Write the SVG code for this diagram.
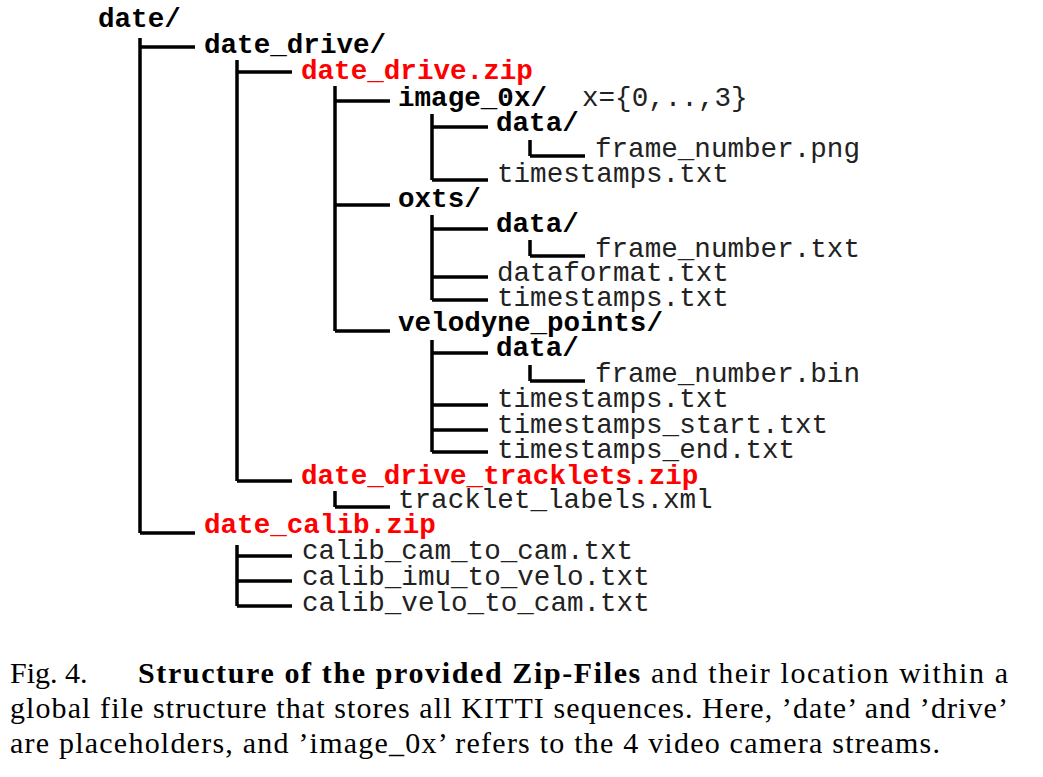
<svg xmlns="http://www.w3.org/2000/svg" width="1043" height="777" viewBox="0 0 1043 777">
<style>
.d{font-family:"Liberation Mono",monospace;font-weight:bold;font-size:27.6px;fill:#000}
.z{font-family:"Liberation Mono",monospace;font-weight:bold;font-size:27.6px;fill:#f00}
.f{font-family:"Liberation Mono",monospace;font-size:27.6px;fill:#222}
.c{font-family:"Liberation Serif",serif;font-size:30px;fill:#000}
.l{stroke:#000;stroke-width:3.5;fill:none}
</style>
<rect width="1043" height="777" fill="#fff"/>
<g id="connectors" class="l">
<path d="M140 38V533M140 47H195M140 533H195"/>
<path d="M237 60V481M237 72H292M237 481H292"/>
<path d="M237 545V606M237 556H292M237 581H292M237 606H292"/>
<path d="M335 86V331M335 101H390M335 205H390M335 331H390"/>
<path d="M335 491V507M335 507H390"/>
<path d="M432 114V180M432 127H488M432 180H488"/>
<path d="M432 215V300M432 229H488M432 277H488M432 300H488"/>
<path d="M432 340V452M432 353H488M432 405H488M432 430H488M432 452H488"/>
<path d="M530 140V156M530 156H585M530 240V256M530 256H585M530 365V381M530 381H585"/>
</g>
<g id="n1"><text class="d" x="98" y="27">date/</text></g>
<g id="n2"><text class="d" x="204" y="53">date_drive/</text></g>
<g id="n3"><text class="z" x="301" y="79">date_drive.zip</text></g>
<g id="n4"><text class="d" x="398" y="106">image_0x/</text><text class="f" x="582" y="106">x={0,..,3}</text></g>
<g id="n5"><text class="d" x="496" y="131">data/</text></g>
<g id="n6"><text class="f" x="595" y="157">frame_number.png</text></g>
<g id="n7"><text class="f" x="497" y="182">timestamps.txt</text></g>
<g id="n8"><text class="d" x="398" y="207">oxts/</text></g>
<g id="n9"><text class="d" x="496" y="232">data/</text></g>
<g id="n10"><text class="f" x="595" y="257">frame_number.txt</text></g>
<g id="n11"><text class="f" x="497" y="281">dataformat.txt</text></g>
<g id="n12"><text class="f" x="497" y="306">timestamps.txt</text></g>
<g id="n13"><text class="d" x="398" y="331">velodyne_points/</text></g>
<g id="n14"><text class="d" x="496" y="356">data/</text></g>
<g id="n15"><text class="f" x="595" y="382">frame_number.bin</text></g>
<g id="n16"><text class="f" x="497" y="407">timestamps.txt</text></g>
<g id="n17"><text class="f" x="497" y="433">timestamps_start.txt</text></g>
<g id="n18"><text class="f" x="497" y="458">timestamps_end.txt</text></g>
<g id="n19"><text class="z" x="301" y="484">date_drive_tracklets.zip</text></g>
<g id="n20"><text class="f" x="398" y="508">tracklet_labels.xml</text></g>
<g id="n21"><text class="z" x="204" y="533">date_calib.zip</text></g>
<g id="n22"><text class="f" x="302" y="559">calib_cam_to_cam.txt</text></g>
<g id="n23"><text class="f" x="302" y="585">calib_imu_to_velo.txt</text></g>
<g id="n24"><text class="f" x="302" y="611">calib_velo_to_cam.txt</text></g>
<g id="caption">
<text class="c" x="10" y="683">Fig. 4.</text>
<text class="c" x="138" y="683" textLength="870" lengthAdjust="spacing"><tspan font-weight="bold">Structure of the provided Zip-Files</tspan> and their location within a</text>
<text class="c" x="10" y="718" textLength="998" lengthAdjust="spacing">global file structure that stores all KITTI sequences. Here, ’date’ and ’drive’</text>
<text class="c" x="10" y="753" textLength="930" lengthAdjust="spacing">are placeholders, and ’image_0x’ refers to the 4 video camera streams.</text>
</g>
</svg>
